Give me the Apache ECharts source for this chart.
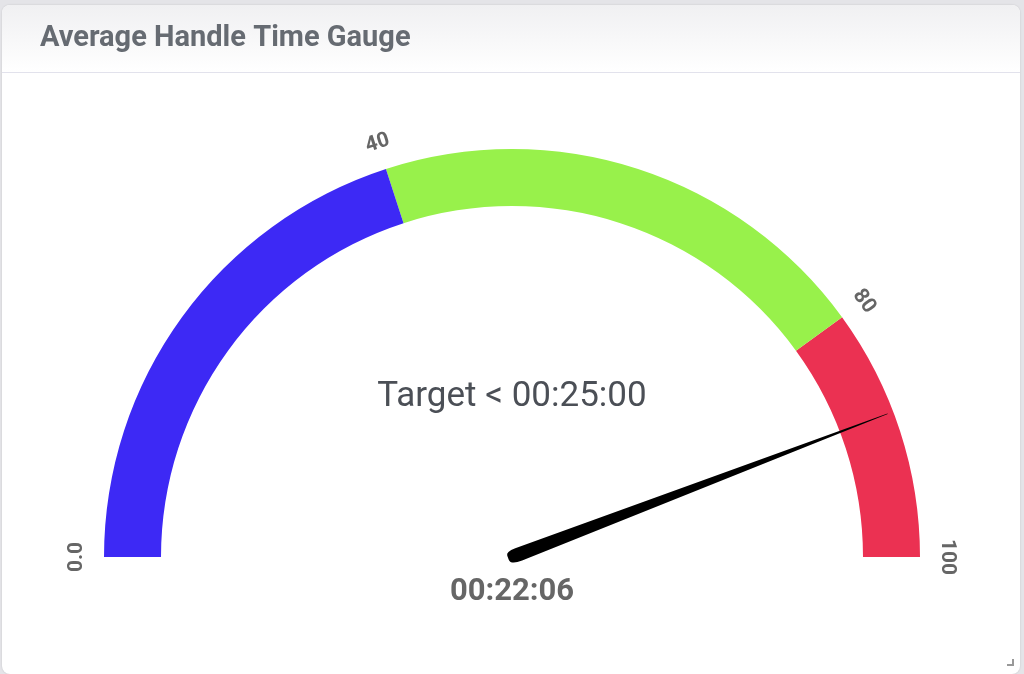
<!DOCTYPE html>
<html>
<head>
<meta charset="utf-8">
<script src="https://cdn.jsdelivr.net/npm/echarts@6/dist/echarts.min.js"></script>
<style>
html,body{margin:0;padding:0;width:1024px;height:674px;overflow:hidden;background:#e4e4e8;font-family:Roboto,sans-serif;}
#card{position:absolute;left:2px;top:5px;width:1018px;height:669px;background:#fff;border-radius:8px;box-shadow:0 0 2px rgba(0,0,0,0.15);overflow:hidden;}
#head{position:absolute;left:0;top:0;width:100%;height:67px;background:linear-gradient(#f0f0f2,#ffffff);border-bottom:1px solid #e2e2ec;}
#corner{position:absolute;right:6px;bottom:8px;width:5px;height:5px;border-right:2px solid #999;border-bottom:2px solid #999;}
#chart{position:absolute;left:0;top:0;width:1024px;height:674px;}
</style>
</head>
<body>
<div id="card"><div id="head"></div><div id="corner"></div></div>
<div id="chart"></div>
<script>
const headerTitle = 'Average Handle Time Gauge';
const targetLabel = 'Target < 00:25:00';
const valueLabel = '00:22:06';
const gaugeValue = [88.4];
const bandStops = [0.4, 0.8, 1.0];
const bandColors = ['#3d29f5', '#98f14b', '#eb3152'];
const tickLabels = {0: '0.0', 40: '40', 80: '80', 100: '100'};

const chart = echarts.init(document.getElementById('chart'), null, {renderer: 'canvas'});
chart.setOption({
  backgroundColor: 'transparent',
  title: {
    text: headerTitle,
    left: 35, top: 19,
    textStyle: {fontFamily: 'Roboto', fontSize: 29, fontWeight: 'bold', color: '#666b72'}
  },
  series: [{
    type: 'gauge',
    center: [512, 557],
    radius: 408,
    startAngle: 180,
    endAngle: 0,
    min: 0,
    max: 100,
    splitNumber: 5,
    axisLine: {
      show: true,
      roundCap: false,
      lineStyle: {width: 57, color: bandStops.map((s, i) => [s, bandColors[i]])}
    },
    axisTick: {show: false},
    splitLine: {show: false, length: 0, distance: 0},
    axisLabel: {
      show: true,
      distance: -27,
      rotate: 'tangential',
      fontFamily: 'Roboto',
      fontSize: 21,
      fontWeight: 'bold',
      color: '#666',
      formatter: v => tickLabels[Math.round(v)] !== undefined ? tickLabels[Math.round(v)] : ''
    },
    pointer: {
      show: true,
      icon: 'path://M48,0 L52,0 L100,970 Q100,1000 60,1000 L30,1000 Q0,1000 0,975 Z',
      length: 406,
      width: 14,
      offsetCenter: [0, 4],
      itemStyle: {color: '#000'}
    },
    anchor: {show: false},
    title: {
      show: true,
      offsetCenter: [0, -160],
      fontFamily: 'Roboto',
      fontSize: 35,
      color: '#4b4f56'
    },
    detail: {
      show: true,
      offsetCenter: [0, 35],
      fontFamily: 'Roboto',
      fontSize: 31,
      fontWeight: 'bold',
      color: '#666',
      formatter: () => valueLabel
    },
    data: [{value: gaugeValue[0], name: targetLabel}]
  }]
});
</script>
</body>
</html>
